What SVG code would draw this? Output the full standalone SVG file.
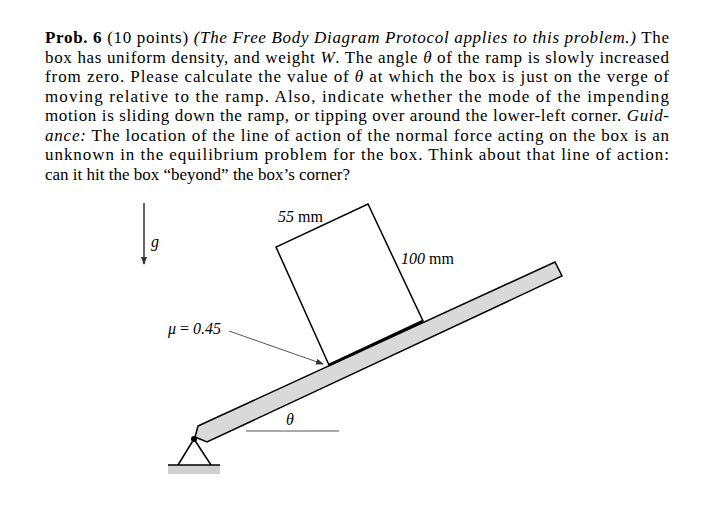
<svg xmlns="http://www.w3.org/2000/svg" width="713" height="513" viewBox="0 0 713 513">
<style>
.t{font-family:"Liberation Serif",serif;font-size:17px;fill:#000}
.s{font-family:"Liberation Serif",serif;font-size:16px;fill:#000}
.ln{stroke:#000;stroke-width:1.5;fill:none}
</style>
<defs>
<marker id="ah" markerWidth="8" markerHeight="6" refX="7" refY="3" orient="auto" markerUnits="userSpaceOnUse"><path d="M0,0 L8,3 L0,6 Z" fill="#333"/></marker>
</defs>
<rect width="713" height="513" fill="#fff"/>
<g id="text">
<text class="t" x="45" y="43" textLength="624" lengthAdjust="spacing"><tspan font-weight="bold">Prob. 6</tspan> (10 points) <tspan font-style="italic">(The Free Body Diagram Protocol applies to this problem.)</tspan> The</text>
<text class="t" x="45" y="63" textLength="624" lengthAdjust="spacing">box has uniform density, and weight <tspan font-style="italic">W</tspan>. The angle <tspan font-style="italic">θ</tspan> of the ramp is slowly increased</text>
<text class="t" x="45" y="82" textLength="624" lengthAdjust="spacing">from zero. Please calculate the value of <tspan font-style="italic">θ</tspan> at which the box is just on the verge of</text>
<text class="t" x="45" y="102" textLength="624" lengthAdjust="spacing">moving relative to the ramp. Also, indicate whether the mode of the impending</text>
<text class="t" x="45" y="121" textLength="624" lengthAdjust="spacing">motion is sliding down the ramp, or tipping over around the lower-left corner. <tspan font-style="italic">Guid-</tspan></text>
<text class="t" x="45" y="141" textLength="624" lengthAdjust="spacing"><tspan font-style="italic">ance:</tspan> The location of the line of action of the normal force acting on the box is an</text>
<text class="t" x="45" y="160" textLength="624" lengthAdjust="spacing">unknown in the equilibrium problem for the box. Think about that line of action:</text>
<text class="t" x="45" y="180">can it hit the box “beyond” the box’s corner?</text>
</g>
<g id="ramp">
<polygon points="198,426 555,262 562,276 207,442 195,437" fill="#d9d9d9" stroke="#000" stroke-width="1.5"/>
</g>
<g id="box">
<polygon points="329,365 423,321 368,204 276,247" fill="#fff" stroke="#000" stroke-width="1.5"/>
<line x1="329" y1="365" x2="423" y2="321" stroke="#000" stroke-width="2.5"/>
</g>
<g id="support">
<rect x="168" y="465" width="52" height="9" fill="#d0d0d0"/>
<polyline points="178,465 194,439 211,465" class="ln"/>
<line x1="168" y1="465" x2="220" y2="465" stroke="#000" stroke-width="1.5"/>
<circle cx="194" cy="439" r="3" fill="#000"/>
</g>
<g id="connectors">
<line x1="144" y1="203" x2="144" y2="264" stroke="#000" stroke-width="1.2" marker-end="url(#ah)"/>
<line x1="229" y1="331" x2="323" y2="364" stroke="#555" stroke-width="1" marker-end="url(#ah)"/>
<line x1="246" y1="431" x2="339" y2="431" stroke="#555" stroke-width="1.2"/>
</g>
<g id="labels">
<text class="s" x="151" y="247" font-style="italic">g</text>
<text class="s" x="286" y="425" font-style="italic">θ</text>
<text class="s" x="168" y="334"><tspan font-style="italic">μ</tspan> = <tspan font-style="italic">0.45</tspan></text>
<text class="s" x="278" y="222"><tspan font-style="italic">55</tspan> mm</text>
<text class="s" x="401" y="264"><tspan font-style="italic">100</tspan> mm</text>
</g>
</svg>
